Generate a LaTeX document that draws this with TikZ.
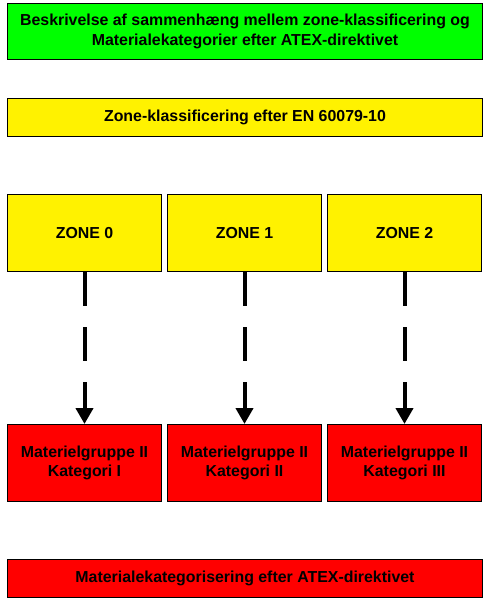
\documentclass[tikz,border=0pt]{standalone}
\usepackage{fontspec}
\setmainfont{Liberation Sans}
\usetikzlibrary{arrows.meta}
\tikzstyle{boite} = [rectangle, draw=black, line width=1pt, anchor=north west, inner sep=0pt, align=center, font=\bfseries\fontsize{15.9}{19.5}\selectfont]
\tikzstyle{bande} = [boite, minimum width=475pt, minimum height=38pt]
\tikzstyle{zone} = [boite, fill=yellow, minimum width=154pt, minimum height=77pt]
\tikzstyle{materiel} = [boite, fill=red, minimum width=154pt, minimum height=77pt]
\tikzstyle{fleche} = [line width=4pt, dash pattern=on 34pt off 21pt, -{Triangle[width=17pt,length=16pt]}]

\begin{document}
\begin{tikzpicture}[x=1pt, y=-1pt]

        \useasboundingbox (0,0) rectangle (490,599);

        %% titles
        \node (T) [bande, fill=green, minimum height=56pt] at (7,3) {Beskrivelse af sammenhæng mellem zone-klassificering og\\
            Materialekategorier efter ATEX-direktivet};
        \node (EN) [bande, fill=yellow] at (7,98) {Zone-klassificering efter EN 60079-10};

        %% zones
        \node (Z0) [zone] at (7,194) {ZONE 0};
        \node (Z1) [zone] at (167,194) {ZONE 1};
        \node (Z2) [zone] at (327,194) {ZONE 2};

        %% categories
        \node (M0) [materiel] at (7,424) {Materielgruppe II\\ Kategori I};
        \node (M1) [materiel] at (167,424) {Materielgruppe II\\ Kategori II};
        \node (M2) [materiel] at (327,424) {Materielgruppe II\\ Kategori III};

        \node (ATEX) [bande, fill=red] at (7,559) {Materialekategorisering efter ATEX-direktivet};

        %% relations
        \draw[fleche] (Z0) -- (M0);
        \draw[fleche] (Z1) -- (M1);
        \draw[fleche] (Z2) -- (M2);

    \end{tikzpicture}
\end{document}
